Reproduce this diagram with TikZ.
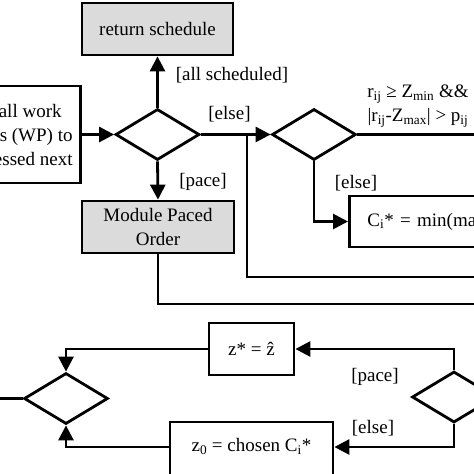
\documentclass[tikz,border=0pt]{standalone}
\usepackage{fontspec}
\setmainfont{Liberation Serif}
\usetikzlibrary{shapes.geometric,arrows.meta}
\begin{document}
\begin{tikzpicture}[x=1pt,y=-1pt, line width=2.8pt,
 every node/.style={font=\fontsize{19}{24}\selectfont},
 box/.style={draw, rectangle, inner sep=0pt},
 gbox/.style={box, fill=gray!28},
 dia/.style={draw, diamond, inner sep=0pt, minimum width=84pt, minimum height=51pt},
 arr/.style={-{Triangle[length=15pt,width=15pt]}},
 lbl/.style={inner sep=0pt}]
\useasboundingbox (0,0) rectangle (474,474);
\clip (0,0) rectangle (474,474);
% top part
\node[gbox, minimum width=151pt, minimum height=52pt] (ret) at (157.5,29) {return schedule};
\node[box, align=right, inner xsep=8pt, minimum height=97pt, anchor=east] (wp) at (82,134.5) {all work\hspace*{11pt}\\s (WP) to\\essed next};
\node[dia] (d1) at (157.5,134.5) {};
\node[gbox, minimum width=152pt, minimum height=52pt, align=center] (mpo) at (158,227) {Module Paced\\Order};
\node[dia] (d2) at (314,134.5) {};
\node[box, anchor=west, minimum height=51pt, text width=140pt, align=left, inner xsep=18pt] (cb) at (348,221.5) {C\textsubscript{i}* = min(ma};
\node[lbl] (lall) at (232,75) {[all scheduled]};
\node[lbl] (le1) at (229.5,114) {[else]};
\node[lbl] (lp1) at (203,182) {[pace]};
\node[lbl] (le2) at (356,183) {[else]};
\node[lbl, align=center] (cond) at (418,106) {r\textsubscript{ij} ≥ Z\textsubscript{min} \&\&\\|r\textsubscript{ij}-Z\textsubscript{max}| > p\textsubscript{ij}};
% bottom part
\node[box, minimum width=85pt, minimum height=52pt] (zs) at (251.5,349) {z* = \^{z}};
\node[box, minimum width=163pt, minimum height=56pt, text height=13pt, text depth=10pt] (z0) at (251.5,450) {z\textsubscript{0} = chosen C\textsubscript{i}*};
\node[dia] (d3) at (454,397) {};
\node[dia] (d4) at (66,398.5) {};
\node[lbl] (lp2) at (375,377) {[pace]};
\node[lbl] (le3) at (373,428) {[else]};
% free ends
\coordinate (e1) at (490,134.5);
\coordinate (e2) at (490,277);
\coordinate (j1) at (247,134.5);
\coordinate (e3) at (490,304);
\coordinate (e4) at (-10,398.5);
\coordinate (z0e) at ([yshift=3pt]z0.east);
\coordinate (z0w) at ([yshift=3pt]z0.west);
% connectors
\draw[arr] (wp.east) -- (d1.west);
\draw[arr] (d1.north) -- (ret.south);
\draw[arr] (d1.south) -- (mpo.north);
\draw[arr] (d1.east) -- (d2.west);
\draw (e2) -| (j1);
\draw (d2.east) -- (e1);
\draw[arr] (d2.south) |- (cb.west);
\draw (mpo.south) |- (e3);
\draw[arr] (d3.north) |- (zs.east);
\draw[arr] (d3.south) |- (z0e);
\draw[arr] (zs.west) -| (d4.north);
\draw[arr] (z0w) -| (d4.south);
\draw (d4.west) -- (e4);
\end{tikzpicture}
\end{document}
